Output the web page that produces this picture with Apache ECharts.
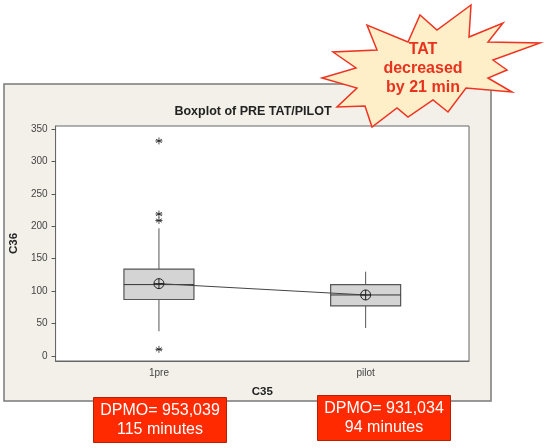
<!DOCTYPE html>
<html>
<head>
<meta charset="utf-8">
<script src="https://cdn.jsdelivr.net/npm/echarts@6/dist/echarts.min.js"></script>
<style>
  html, body { margin: 0; padding: 0; background: #fff; }
  #main { width: 545px; height: 448px; }
</style>
</head>
<body>
<div id="main"></div>
<script>
// categories and box statistics
const categories = ['1pre', 'pilot']
// [low whisker, Q1, median, Q3, high whisker]
const boxStats = [
    [38, 87, 110, 134, 197],
    [43, 77, 94, 110, 130]
]
const means = [111.5, 94]
// outliers as [category index, value]
const outliers = [
    [0, 332],
    [0, 219],
    [0, 209],
    [0, 10]
]
const yTicks = [0, 50, 100, 150, 200, 250, 300, 350]
const boxNotes = [
    ['DPMO= 953,039', '115 minutes'],
    ['DPMO= 931,034', '94 minutes']
]
const burstText = 'TAT\ndecreased\nby 21 min'

const font = '"Liberation Sans", Arial, sans-serif'
const chart = echarts.init(document.getElementById('main'))

// star outline for the callout
const burst = [
    [471, 5], [469, 37], [503, 23], [488, 42], [540, 43], [493, 60],
    [507, 70], [488, 78], [512, 92], [466, 88], [448, 112], [433, 100],
    [408, 117], [397, 108], [372, 127], [365, 106], [337, 107], [357, 88],
    [322, 78], [356, 68], [333, 52], [377, 50], [367, 25], [408, 42],
    [420, 15], [437, 30]
]

const noteBox = (x, y, lines) => ({
    type: 'group',
    left: x,
    top: y,
    children: [
        {
            type: 'rect',
            shape: { x: 0, y: 0, width: 133, height: 45 },
            style: { fill: '#ff2a00', stroke: '#b82000', lineWidth: 1 }
        },
        {
            type: 'text',
            style: {
                x: 66.5,
                y: 23,
                text: lines.join('\n'),
                fill: '#fff',
                font: '16px ' + font,
                lineHeight: 19,
                align: 'center',
                verticalAlign: 'middle'
            }
        }
    ]
})

const asterisk = 'path://M5,0L5,10M0.7,2.5L9.3,7.5M0.7,7.5L9.3,2.5M0,5L10,5'
const meanMark = 'path://M10,0A10,10,0,1,1,10,20A10,10,0,1,1,10,0ZM10,0L10,20M0,10L20,10'

// minitab-style box: no whisker caps
const renderBox = (params, api) => {
    const i = api.value(0)
    const bw = 70
    const lo = api.coord([i, api.value(1)])
    const q1 = api.coord([i, api.value(2)])
    const md = api.coord([i, api.value(3)])
    const q3 = api.coord([i, api.value(4)])
    const hi = api.coord([i, api.value(5)])
    const x = lo[0]
    const line = { stroke: '#555', lineWidth: 1 }
    return {
        type: 'group',
        children: [
            { type: 'line', shape: { x1: x, y1: lo[1], x2: x, y2: q1[1] }, style: line },
            { type: 'line', shape: { x1: x, y1: q3[1], x2: x, y2: hi[1] }, style: line },
            {
                type: 'rect',
                shape: { x: x - bw / 2, y: q3[1], width: bw, height: q1[1] - q3[1] },
                style: { fill: '#d4d4d4', stroke: '#555', lineWidth: 1.2 }
            },
            { type: 'line', shape: { x1: x - bw / 2, y1: md[1], x2: x + bw / 2, y2: md[1] }, style: { stroke: '#333', lineWidth: 1 } }
        ]
    }
}

const option = {
    animation: false,
    title: {
        text: 'Boxplot of PRE TAT/PILOT',
        left: 248,
        top: 100,
        textAlign: 'center',
        textStyle: { fontFamily: font, fontSize: 12.5, fontWeight: 'bold', color: '#222' }
    },
    grid: {
        left: 53,
        right: 76,
        top: 126,
        bottom: 87,
        show: true,
        backgroundColor: '#fff',
        borderColor: '#666',
        borderWidth: 1
    },
    xAxis: {
        type: 'category',
        data: categories,
        name: 'C35',
        nameLocation: 'middle',
        nameGap: 25,
        nameTextStyle: { fontFamily: font, fontSize: 11.5, fontWeight: 'bold', color: '#222' },
        axisLine: { onZero: false, lineStyle: { color: '#666' } },
        axisTick: { alignWithLabel: true, length: 4, lineStyle: { color: '#555' } },
        axisLabel: { fontFamily: font, fontSize: 10, color: '#444', margin: 7 },
        splitLine: { show: false }
    },
    yAxis: {
        type: 'value',
        min: -8,
        max: 355,
        name: 'C36',
        nameLocation: 'middle',
        nameGap: 35,
        nameTextStyle: { fontFamily: font, fontSize: 11.5, fontWeight: 'bold', color: '#222' },
        axisLine: { show: true, lineStyle: { color: '#666' } },
        axisTick: { show: true, length: 4, customValues: yTicks, lineStyle: { color: '#555' } },
        axisLabel: { fontFamily: font, fontSize: 10, color: '#444', margin: 8, customValues: yTicks },
        splitLine: { show: false }
    },
    graphic: [
        {
            type: 'rect',
            z: -10,
            shape: { x: 4, y: 84, width: 487, height: 317 },
            style: { fill: '#f3f0e9', stroke: '#7a7a7a', lineWidth: 1.5 }
        },
        {
            type: 'polygon',
            z: 100,
            shape: { points: burst },
            style: { fill: '#ffefc8', stroke: '#ee3322', lineWidth: 1.5 }
        },
        {
            type: 'text',
            z: 101,
            style: {
                x: 423,
                y: 69,
                text: burstText,
                fill: '#e8321e',
                font: 'bold 16px ' + font,
                lineHeight: 19,
                align: 'center',
                verticalAlign: 'middle'
            }
        },
        noteBox(93, 397, boxNotes[0]),
        noteBox(317, 395, boxNotes[1])
    ],
    series: [
        {
            type: 'custom',
            renderItem: renderBox,
            encode: { x: 0, y: [1, 2, 3, 4, 5] },
            data: boxStats.map((s, i) => [i, ...s])
        },
        {
            type: 'line',
            data: means,
            symbol: meanMark,
            symbolSize: 10,
            lineStyle: { color: '#444', width: 1 },
            itemStyle: { color: 'rgba(0,0,0,0)', borderColor: '#222', borderWidth: 1 },
            z: 5
        },
        {
            type: 'scatter',
            data: outliers,
            symbol: asterisk,
            symbolSize: 7,
            itemStyle: { color: 'rgba(0,0,0,0)', borderColor: '#222', borderWidth: 1 }
        }
    ]
}

chart.setOption(option)
</script>
</body>
</html>
